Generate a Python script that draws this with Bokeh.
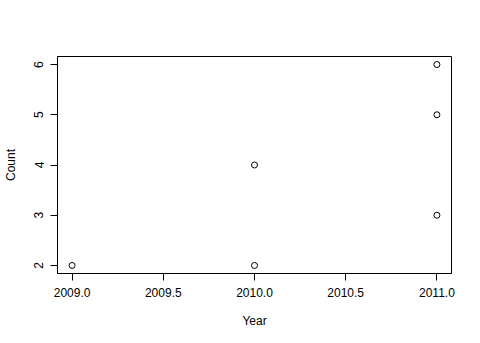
from bokeh.plotting import figure
from bokeh.models import FixedTicker, PrintfTickFormatter, Range1d
from bokeh.embed import file_html
from bokeh.resources import INLINE

year = [2009, 2010, 2010, 2011, 2011, 2011]
count = [2, 2, 4, 3, 5, 6]
x_ticks = [2009.0, 2009.5, 2010.0, 2010.5, 2011.0]
y_ticks = [2, 3, 4, 5, 6]

p = figure(width=480, height=343, output_backend="svg", toolbar_location=None,
           x_range=Range1d(2008.92, 2011.08), y_range=Range1d(1.84, 6.16),
           min_border_left=56, min_border_right=29, min_border_top=56, min_border_bottom=70)
p.background_fill_color = "white"
p.border_fill_color = "white"
p.outline_line_color = "black"
p.outline_line_width = 1
p.grid.visible = False

p.scatter(year, count, marker="circle", size=6, fill_color=None, line_color="black", line_width=1)

font = "Liberation Sans"
for ax in (p.xaxis[0], p.yaxis[0]):
    ax.axis_line_color = "black"
    ax.major_tick_line_color = "black"
    ax.major_tick_in = 0
    ax.major_tick_out = 7
    ax.minor_tick_line_color = None
    ax.major_label_text_font = font
    ax.major_label_text_font_size = "12px"
    ax.major_label_text_color = "black"
    ax.axis_label_text_font = font
    ax.axis_label_text_font_size = "12px"
    ax.axis_label_text_font_style = "normal"
    ax.axis_label_text_color = "black"
    ax.major_label_standoff = 7
    ax.axis_label_standoff = 14

p.xaxis.ticker = FixedTicker(ticks=x_ticks)
p.xaxis.formatter = PrintfTickFormatter(format="%.1f")
p.yaxis.ticker = FixedTicker(ticks=y_ticks)
p.yaxis.formatter = PrintfTickFormatter(format="%d")
p.yaxis.major_label_orientation = "vertical"
p.xaxis.axis_label = "Year"
p.yaxis.axis_label = "Count"

open("out.html", "w").write(file_html(p, INLINE))
